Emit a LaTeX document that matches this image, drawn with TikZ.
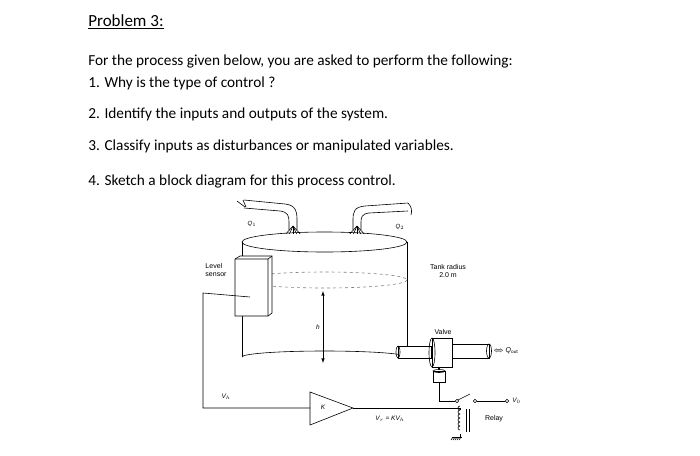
\documentclass[tikz,border=0pt]{standalone}
\usepackage{fontspec}
\setmainfont{Carlito}
\newfontfamily\lab{Liberation Sans}
\begin{document}
\begin{tikzpicture}[x=1pt,y=-1pt,line width=0.6pt,
  txt/.style={anchor=west,inner sep=0,font=\fontsize{15.3}{17}\selectfont},
  lbl/.style={inner sep=0,font=\lab\fontsize{7}{7.5}\selectfont},
  wire/.style={line width=0.6pt}]
\useasboundingbox (0,0) rectangle (700,455);
\node[txt,font=\fontsize{17}{19}\selectfont] (title) at (88,22) {\underline{Problem 3:}};
\node[txt] (t1) at (88,62) {For the process given below, you are asked to perform the following:};
\node[txt] (t2) at (88,83) {1. Why is the type of control ?};
\node[txt] (t3) at (88,114) {2. Identify the inputs and outputs of the system.};
\node[txt] (t4) at (88,146) {3. Classify inputs as disturbances or manipulated variables.};
\node[txt] (t5) at (88,181) {4. Sketch a block diagram for this process control.};
% tank
\draw (242,242) -- (242,357);
\draw (407,242) -- (407,357);
\draw (324.5,242) ellipse [x radius=82.5, y radius=10];
\draw (242,357) arc[start angle=180,end angle=360,x radius=82.5,y radius=6];
\draw[dashed,gray] (324.5,280) ellipse [x radius=82.5, y radius=8];
% h arrow
\draw[<->,>=latex] (323,291) -- (323,363);
\node[lbl,font=\lab\itshape\fontsize{6.5}{7}\selectfont] (h) at (318,327) {h};
% sensor
\draw[fill=white] (235,259) -- (240,256) -- (272,256) -- (272,313) -- (268,316) -- (235,316) -- cycle;
\draw (235,259) -- (268,259) -- (268,316) (268,259) -- (272,256);
\node[lbl,align=left] (ls) at (216,270) {Level\\sensor};
% inlet pipes
\draw (237,201) -- (245,207) (243,200) -- (246,207);
\draw (244,200) -- (285,204) .. controls (296,205) and (297,212) .. (297,220) -- (297,230);
\draw (244,208) -- (280,211) .. controls (288,212) and (289,216) .. (289,222) -- (289,230);
\foreach \a in {-12,-6,0,6,12} \draw (293,226) -- ++(\a*0.6,8);
\draw (408,203) -- (365,206) .. controls (354,207) and (353,212) .. (353,220) -- (353,230);
\draw (408,211) -- (369,213) .. controls (362,214) and (361,217) .. (361,222) -- (361,230);
\draw (408,203) .. controls (412,207) and (412,211) .. (411,215);
\foreach \a in {-12,-6,0,6,12} \draw (357,226) -- ++(\a*0.6,8);
\node[lbl,font=\lab\itshape\fontsize{6}{6.5}\selectfont] (q1) at (252,224) {Q$_1$};
\node[lbl,font=\lab\itshape\fontsize{6}{6.5}\selectfont] (q2) at (400,227) {Q$_2$};
\node[lbl,align=center] (tr) at (448,271) {Tank radius\\2.0 m};
% valve and pipes
\draw[fill=white] (398,346) rectangle (431,358);
\draw (398,352) ellipse[x radius=2,y radius=6];
\draw[fill=white] (432,338) rectangle (452,367);
\draw (432,352.5) ellipse[x radius=3,y radius=14.5];
\draw[fill=white] (452,344) rectangle (489,358);
\draw (489,351) ellipse[x radius=2.5,y radius=7];
\node[lbl] (valve) at (443,332) {Valve};
\node[lbl,anchor=west] (qout) at (493,351) {$\Leftarrow\!\!\!\!\Rightarrow$ \itshape Q$_{\mathrm{out}}$};
\draw[line width=1.5pt] (439,367) -- (439,370);
\draw[fill=white] (433,371) rectangle (445,382);
\draw (439,371) ellipse[x radius=6,y radius=1.5];
% switch
\coordinate (s0) at (439,382);
\draw (s0) -- (439,401) -- (455,401);
\draw (457,401) circle (1.8);
\draw (458,400) -- (470,394);
\draw (475,401) circle (1.8);
\draw (477,401) -- (505,401);
\draw (507,401) circle (1.8);
\node[lbl,anchor=west,font=\lab\itshape\fontsize{6.5}{7}\selectfont] (v0) at (512,401) {V$_0$};
% sensor wire and amplifier
\draw (250,297) -- (203,293) -- (203,408) -- (310,408);
\draw (310,392) -- (353,408) -- (310,425) -- cycle;
\node[lbl,font=\lab\itshape\fontsize{6.5}{7}\selectfont] (k) at (323,407) {K};
\node[lbl,font=\lab\itshape\fontsize{6.5}{7}\selectfont] (vh) at (226,397) {V$_h$};
\node[lbl,font=\lab\itshape\fontsize{6.5}{7}\selectfont] (vr) at (390,419) {V$_r$ = KV$_h$};
\draw (353,408) -- (460,408) -- (460,410);
\foreach \i in {0,...,5} \draw (460,410+4*\i) arc[start angle=90,end angle=270,radius=2];
\draw (460,434) -- (460,437) -- (455,437);
\draw[line width=1pt] (466,409) -- (466,432) (469,409) -- (469,432);
\node[lbl] (relay) at (494,419) {Relay};
\draw (452,437) -- (462,437);
\foreach \i in {0,1,2,3,4} \draw (453+\i*2,437) -- ++(-2,3);
\end{tikzpicture}
\end{document}
